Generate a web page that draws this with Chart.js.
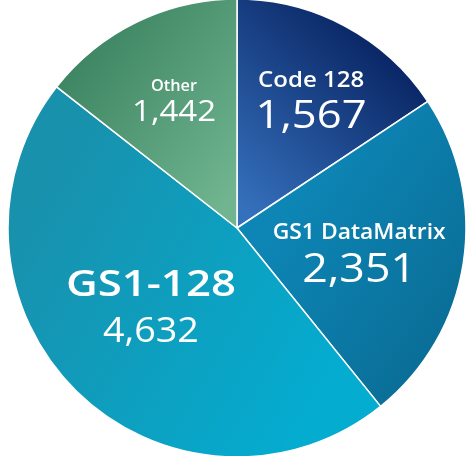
<!DOCTYPE html>
<html>
<head>
<meta charset="utf-8">
<script src="https://cdn.jsdelivr.net/npm/chart.js@4"></script>
<style>
  html, body { margin: 0; padding: 0; background: #fff; }
  #wrap { width: 474px; height: 456px; }
</style>
</head>
<body>
<div id="wrap"><canvas id="pie"></canvas></div>
<script>
var labels = ['Code 128', 'GS1 DataMatrix', 'GS1-128', 'Other'];
var counts = [1567, 2351, 4632, 1442];

// gradient per slice: from [deg clockwise from top, radius fraction] colour -> to colour
var shades = [
  { from: [40, 1.0], to: [10, 0.1], c0: '#0a2766', c1: '#3570bc' },
  { from: [115, 1.0], to: [70, 0.2], c0: '#0a6f98', c1: '#0d86b6' },
  { from: [265, 1.0], to: [160, 0.9], c0: '#1891ad', c1: '#04acd0' },
  { from: [315, 1.0], to: [355, 0.15], c0: '#3f8664', c1: '#70b590' }
];
// label placement: angle shift (deg) from slice middle, radius fraction, gap between lines,
// font sizes and rendered widths (glyphs are stretched to the width)
var labelLayout = [
  { shift: 3.4, frac: 0.617, gap: 41, nameSize: 22, nameW: 106, valSize: 39, valW: 111 },
  { shift: 6.1, frac: 0.552, gap: 43, nameSize: 21, nameW: 173, valSize: 40, valW: 114 },
  { shift: -1.2, frac: 0.547, gap: 46, nameSize: 36, nameW: 170, valSize: 34, valW: 96 },
  { shift: -1.3, frac: 0.60, gap: 30, nameSize: 16, nameW: 46, valSize: 29, valW: 84 }
];

function polar(p, deg, frac) {
  var a = (deg - 90) * Math.PI / 180;
  return [p.x + Math.cos(a) * p.outerRadius * frac, p.y + Math.sin(a) * p.outerRadius * frac];
}

var sliceShading = {
  id: 'sliceShading',
  beforeDatasetsDraw: function(chart) {
    chart.getDatasetMeta(0).data.forEach(function(arc, i) {
      var p = arc.getProps(['x', 'y', 'outerRadius'], true);
      var s = shades[i];
      var a = polar(p, s.from[0], s.from[1]);
      var b = polar(p, s.to[0], s.to[1]);
      var g = chart.ctx.createLinearGradient(a[0], a[1], b[0], b[1]);
      g.addColorStop(0, s.c0);
      g.addColorStop(1, s.c1);
      arc.options = Object.assign({}, arc.options, { backgroundColor: g });
    });
  }
};

var sliceLabels = {
  id: 'sliceLabels',
  afterDatasetsDraw: function(chart) {
    var c = chart.ctx;
    var meta = chart.getDatasetMeta(0);
    c.fillStyle = '#ffffff';
    c.textBaseline = 'alphabetic';
    c.textAlign = 'center';
    function stretched(text, x, y, w) {
      var k = w / c.measureText(text).width;
      c.save();
      c.translate(x, y);
      c.scale(k, 1);
      c.fillText(text, 0, 0);
      c.restore();
    }
    meta.data.forEach(function(arc, i) {
      var p = arc.getProps(['x', 'y', 'startAngle', 'endAngle', 'outerRadius'], true);
      var L = labelLayout[i];
      var a = (p.startAngle + p.endAngle) / 2 + L.shift * Math.PI / 180;
      var x = p.x + Math.cos(a) * p.outerRadius * L.frac;
      var y = p.y + Math.sin(a) * p.outerRadius * L.frac;
      c.font = '600 ' + L.nameSize + 'px "Open Sans", sans-serif';
      stretched(labels[i], x, y - L.gap / 2, L.nameW);
      c.font = '400 ' + L.valSize + 'px "Open Sans", sans-serif';
      stretched(counts[i].toLocaleString('en-US'), x, y + L.gap / 2, L.valW);
    });
  }
};

new Chart(document.getElementById('pie').getContext('2d'), {
  type: 'pie',
  data: {
    labels: labels,
    datasets: [{
      data: counts,
      backgroundColor: function() { return '#1a8fb0'; },
      borderColor: '#ffffff',
      borderWidth: 1.5
    }]
  },
  options: {
    responsive: true,
    maintainAspectRatio: false,
    animation: false,
    radius: 229,
    layout: { padding: 0 },
    plugins: {
      legend: { display: false },
      tooltip: { enabled: false }
    }
  },
  plugins: [sliceShading, sliceLabels]
});
</script>
</body>
</html>
